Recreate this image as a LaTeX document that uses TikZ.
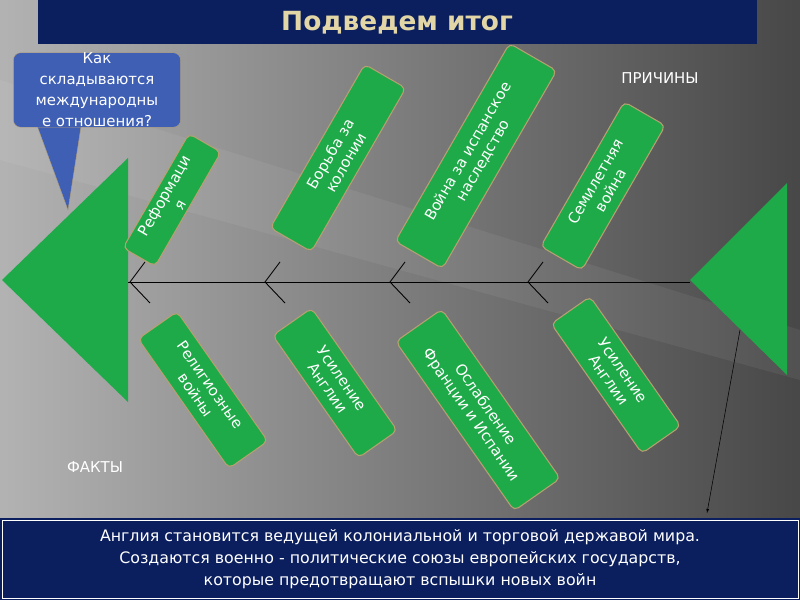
\documentclass[tikz,border=0pt]{standalone}
\usepackage{fontspec}
\setmainfont{DejaVu Sans}
\definecolor{navy}{HTML}{0B1F5E}
\definecolor{fishgreen}{HTML}{1EAA48}
\definecolor{tan}{HTML}{B8A070}
\definecolor{titletan}{HTML}{E2D5A6}
\definecolor{callblue}{HTML}{3F5FB5}
\tikzset{
  cause/.style={draw=tan, line width=1.2pt, fill=fishgreen, rounded corners=6pt,
    text=white, align=center, font=\fontsize{17}{20}\selectfont, inner sep=3pt},
  bone/.style={black, line width=1pt}
}
\begin{document}
\begin{tikzpicture}[x=0.04cm, y=-0.04cm]
\useasboundingbox (0,0) rectangle (800,600);

%background
\shade[left color=gray!60, right color=black!72] (0,0) rectangle (800,600);
\fill[white, opacity=0.06] (0,80) -- (800,330) -- (800,380) -- (0,160) -- cycle;

%title
\fill[navy] (38,0) rectangle (757,44);
\node[text=titletan, font=\fontsize{30}{32}\selectfont\bfseries] (title) at (397,23) {Подведем итог};

%head and tail of the fish
\fill[fishgreen] (2,280) -- (128,158) -- (128,402) -- cycle;
\fill[fishgreen] (690,280) -- (787,183) -- (787,375) -- cycle;

%callout
\fill[callblue, draw=tan] (35,120) -- (68,210) -- (82,120) -- cycle;
\node[draw=tan, fill=callblue, rounded corners=8pt, minimum width=190, minimum height=76,
  text=white, align=center, font=\fontsize{17}{24}\selectfont, inner sep=0pt] (ask) at (97,90)
  {Как\\складываются\\международны\\е отношения?};

%spine
\coordinate (s0) at (128,282);
\coordinate (s4) at (690,282);
\draw[bone] (s0) -- (s4);

%chevrons
\foreach \x in {130,265,390,528}
\draw[bone] (\x+15,262) -- (\x,282) -- (\x+20,303);

%causes
\node[cause, rotate=60, minimum width=150, minimum height=42] (c1) at (172,200) {Реформаци\\я};
\node[cause, rotate=60, minimum width=215, minimum height=54] (c2) at (338,158) {Борьба за\\колонии};
\node[cause, rotate=60, minimum width=260, minimum height=62] (c3) at (476,156) {Война за испанское\\наследство};
\node[cause, rotate=60, minimum width=190, minimum height=54] (c4) at (603,186) {Семилетняя\\война};

%facts
\node[cause, rotate=-55, minimum width=180, minimum height=54] (f1) at (203,390) {Религиозные\\войны};
\node[cause, rotate=-55, minimum width=170, minimum height=54] (f2) at (335,383) {Усиление\\Англии};
\node[cause, rotate=-55, minimum width=235, minimum height=64] (f3) at (478,410) {Ослабление\\Франции и Испании};
\node[cause, rotate=-55, minimum width=180, minimum height=54] (f4) at (616,375) {Усиление\\Англии};

%labels
\node[text=white, font=\fontsize{17}{20}\selectfont] (why) at (660,78) {ПРИЧИНЫ};
\node[text=white, font=\fontsize{17}{20}\selectfont] (fact) at (95,467) {ФАКТЫ};

%result
\coordinate (r0) at (740,330);
\fill[navy] (0,518) rectangle (800,600);
\draw[white, line width=1pt] (2,520) rectangle (798,598);
\node[text=white, align=center, font=\fontsize{18}{25}\selectfont] (res) at (400,559)
  {Англия становится ведущей колониальной и торговой державой мира.\\
   Создаются военно - политические союзы европейских  государств,\\
   которые предотвращают вспышки новых войн};
\draw[-latex, black, line width=0.6pt] (r0) -- (707,513);
\end{tikzpicture}
\end{document}
